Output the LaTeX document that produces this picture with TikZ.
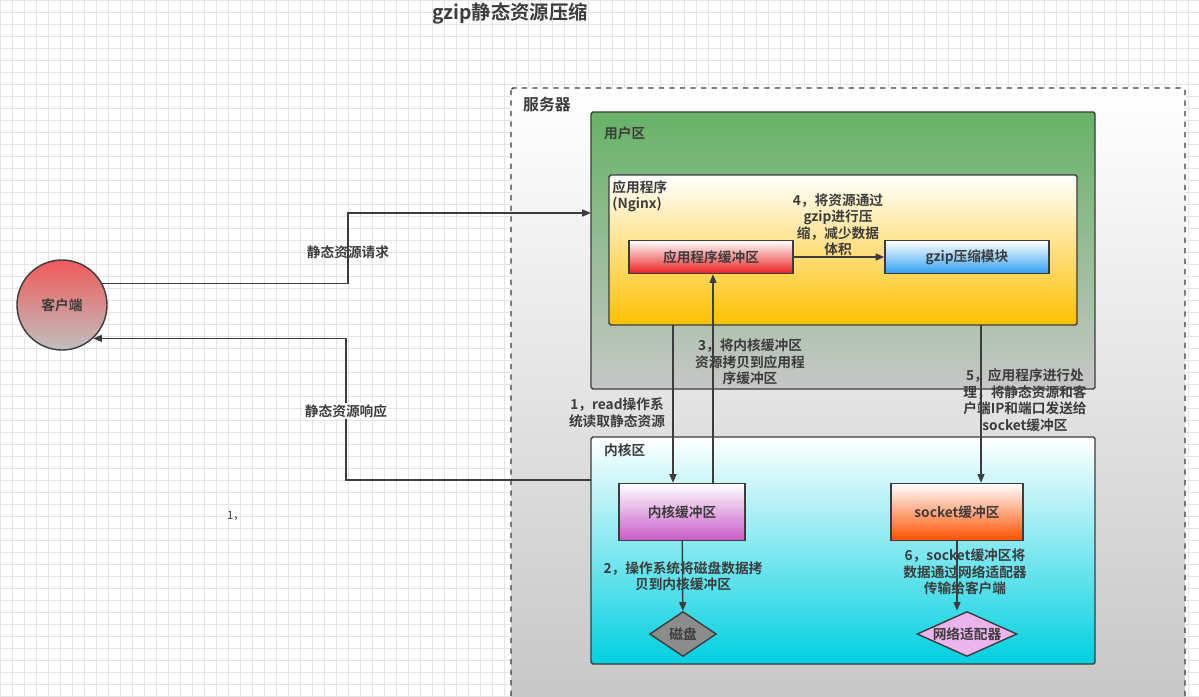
\documentclass[tikz,border=0pt]{standalone}
\usepackage{fontspec}
\setmainfont{Noto Sans CJK SC}[BoldFont={Noto Sans CJK SC Bold}]
\usetikzlibrary{shapes.geometric,arrows.meta}
\definecolor{gridc}{RGB}{228,228,228}
\definecolor{linec}{RGB}{60,60,60}
\tikzset{
  every node/.style={font=\fontsize{7.8}{9.4}\selectfont\bfseries, text=linec},
  zone/.style={draw=linec, line width=0.8pt, rounded corners=1pt},
  box/.style={draw=linec, line width=0.8pt, minimum width=#1*0.02cm, minimum height=33*0.02cm},
  flow/.style={draw=linec, line width=0.8pt, -{Triangle[length=5pt,width=4pt]}},
  lbl/.style={align=center, inner sep=0pt}
}
\begin{document}
\begin{tikzpicture}[x=0.02cm, y=-0.02cm]
\useasboundingbox (0,0) rectangle (1199,696);
\fill[white] (0,0) rectangle (1199,696);
% background grid
\foreach \g in {0,12,...,1199} \draw[gridc, line width=0.3pt] (\g,0) -- (\g,696);
\foreach \g in {0,12,...,696} \draw[gridc, line width=0.3pt] (0,\g) -- (1199,\g);
\node[font=\fontsize{11}{12}\selectfont\bfseries] (title) at (510,14) {gzip静态资源压缩};
% server
\draw[zone, dashed, top color=white, bottom color=black!22] (511,88) rectangle (1185,700);
\node[anchor=west, font=\fontsize{9}{10}\selectfont\bfseries] (srv) at (517,104) {服务器};
% user zone
\draw[zone, top color=green!50!black!60!white, bottom color=black!22] (591,112) rectangle (1095,389);
\coordinate (userW) at (591,213);
\node[anchor=west] (userlbl) at (598,133) {用户区};
\draw[zone, top color=white, bottom color={rgb,255:red,255;green,192;blue,0}] (609,175) rectangle (1077,325);
\node[anchor=north west, lbl, align=left] (applbl) at (612,180) {应用程序\\(Nginx)};
\node[box=164, top color=white, bottom color={rgb,255:red,235;green,30;blue,30}] (appbuf) at (711,257) {应用程序缓冲区};
\node[box=164, top color=white, bottom color={rgb,255:red,50;green,160;blue,240}] (gzip) at (967,257) {gzip压缩模块};
% kernel zone
\draw[zone, top color=white, bottom color={rgb,255:red,0;green,208;blue,224}] (591,437) rectangle (1095,664);
\coordinate (kernW) at (591,480);
\node[anchor=west] (kernlbl) at (598,450) {内核区};
\node[box=126, minimum height=57*0.02cm, top color=white, bottom color={rgb,255:red,200;green,90;blue,200}] (kbuf) at (682,512) {内核缓冲区};
\node[box=132, minimum height=57*0.02cm, top color=white, bottom color={rgb,255:red,255;green,80;blue,0}] (sbuf) at (957,512) {socket缓冲区};
\node[diamond, draw=linec, line width=0.8pt, fill=black!45, aspect=2.2, inner sep=1pt, minimum height=45*0.02cm] (disk) at (683,634) {磁盘};
\node[diamond, draw=linec, line width=0.8pt, fill={rgb,255:red,235;green,180;blue,235}, aspect=2.4, inner sep=0pt, minimum height=45*0.02cm] (nic) at (967,634) {网络适配器};
% client
\node[circle, draw=linec, line width=0.8pt, minimum size=90*0.02cm, top color={rgb,255:red,240;green,90;blue,90}, bottom color=black!25] (client) at (62,305) {客户端};
% connectors
\draw[flow] (client.28) -| (348,213) -- (userW);
\node[lbl] (reqlbl) at (348,252) {静态资源请求};
\draw[flow] (kernW) -- (346,480) |- (client.-47);
\node[lbl, fill=white, inner sep=1pt] (resplbl) at (346,411) {静态资源响应};
\draw[flow] (appbuf) -- (gzip);
\node[lbl] (l4) at (838,225) {4，将资源通过\\gzip进行压\\缩，减少数据\\体积};
\draw[flow] (673,325) -- (kbuf.north -| 673,0);
\node[lbl] (l1) at (617,413) {1，read操作系\\统读取静态资源};
\draw[flow] (kbuf.north -| 713,0) -- (appbuf.south -| 713,0);
\node[lbl] (l3) at (750,362) {3，将内核缓冲区\\资源拷贝到应用程\\序缓冲区};
\draw[flow] (981,325) -- (sbuf.north -| 981,0);
\node[lbl] (l5) at (1025,400) {5，应用程序进行处\\理，将静态资源和客\\户端IP和端口发送给\\socket缓冲区};
\draw[flow] (kbuf) -- (disk);
\node[lbl] (l2) at (683,576) {2，操作系统将磁盘数据拷\\贝到内核缓冲区};
\draw[flow] (sbuf) -- (nic.north -| sbuf);
\node[lbl] (l6) at (965,572) {6，socket缓冲区将\\数据通过网络适配器\\传输给客户端};
\node[font=\fontsize{6.5}{8}\selectfont] (one) at (236,516) {1，};
\end{tikzpicture}
\end{document}
